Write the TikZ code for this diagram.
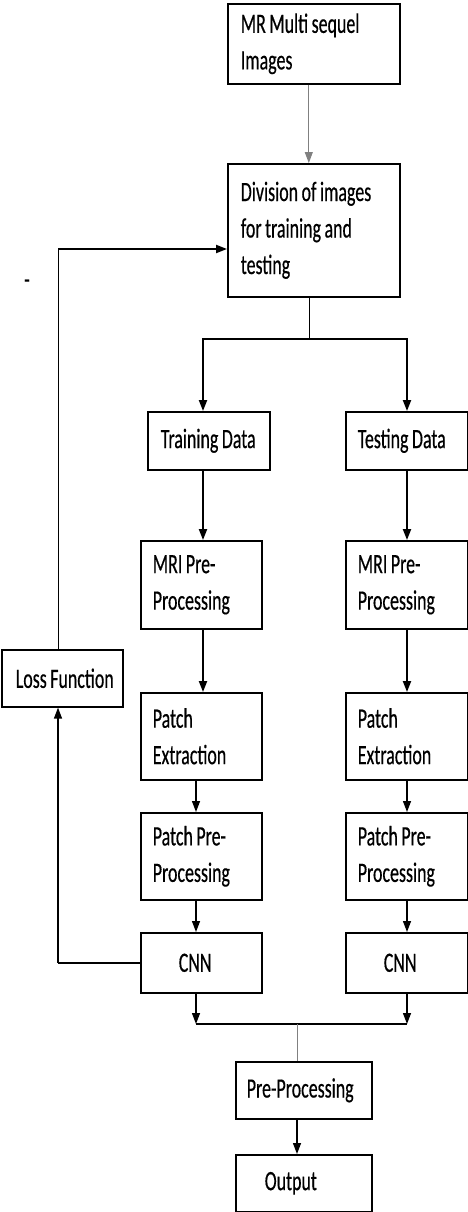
\documentclass[tikz,border=0pt]{standalone}
\usepackage{fontspec}
\newfontfamily\cf[FakeStretch=0.64,FakeBold=0.4]{Carlito}
\usetikzlibrary{arrows.meta}
\newcommand\boxfont{\cf\fontsize{28}{36.5}\selectfont}
\begin{document}
\begin{tikzpicture}[x=1pt,y=-1pt,
  bx/.style={draw, line width=1.6pt, inner sep=0pt, anchor=north west, align=left,
             font=\boxfont, execute at begin node={\spaceskip=3.5pt\xspaceskip=3.5pt\relax}},
  tip/.style={-{Triangle[length=11pt,width=8pt]}},
  thk/.style={line width=2pt},
  med/.style={line width=1.3pt},
  thn/.style={line width=0.9pt}]
\fill[white] (0,0) rectangle (468,1212);
\useasboundingbox (0,0) rectangle (468,1212);

% boxes
\node[bx, minimum width=172pt, minimum height=80pt, text width=146pt] (mr) at (227,3) {MR Multi sequel\\Images};
\node[bx, minimum width=172pt, minimum height=133pt, text width=146pt] (div) at (227,163) {Division of images\\for training and\\testing};
\node[bx, minimum width=122pt, minimum height=58pt, text width=96pt] (tr) at (147,411) {\mbox{Training Data}};
\node[bx, minimum width=122pt, minimum height=58pt, text width=98pt] (te) at (345,411) {\mbox{Testing Data}};
\node[bx, minimum width=121pt, minimum height=88pt, text width=97pt] (mriL) at (140,540) {MRI Pre-\\Processing};
\node[bx, minimum width=122pt, minimum height=88pt, text width=98pt] (mriR) at (345,540) {MRI Pre-\\Processing};
\node[bx, minimum width=121pt, minimum height=87pt, text width=97pt] (peL) at (140,692) {Patch\\Extraction};
\node[bx, minimum width=122pt, minimum height=87pt, text width=98pt] (peR) at (345,692) {Patch\\Extraction};
\node[bx, minimum width=121pt, minimum height=87pt, text width=97pt] (ppL) at (140,812) {Patch Pre-\\Processing};
\node[bx, minimum width=122pt, minimum height=87pt, text width=98pt] (ppR) at (345,812) {Patch Pre-\\Processing};
\node[bx, minimum width=121pt, minimum height=60pt, text width=45pt] (cnnL) at (140,932) {\mbox{CNN}};
\node[bx, minimum width=122pt, minimum height=60pt, text width=46pt] (cnnR) at (345,932) {\mbox{CNN}};
\node[bx, minimum width=121pt, minimum height=57pt, text width=93pt] (loss) at (1,649) {\mbox{Loss Function}};
\node[bx, minimum width=136pt, minimum height=57pt, text width=114pt] (pp) at (235,1061) {\mbox{Pre-Processing}};
\node[bx, minimum width=136pt, minimum height=57pt, text width=78pt] (out) at (235,1154) {\mbox{Output}};
\node[font=\boxfont, inner sep=0pt] (stray) at (27,284) {-};

% helper coordinates
\coordinate (cL) at (203,0);
\coordinate (cL2) at (196,0);
\coordinate (cR) at (407,0);
\coordinate (fb) at (58,0);
\coordinate (split) at (309,339);
\coordinate (merge) at (297,1024);
\coordinate (fbt) at (58,249);

% connectors
\draw[thn, gray, tip] ([xshift=-5pt]mr.south) -- ([xshift=-5pt]div.north);
\draw[thn] (div.south -| split) -- (split);
\draw[thk, tip] (split) -| (tr.north -| cL);
\draw[thk, tip] (split) -| (te.north -| cR);
\draw[thk, tip] (tr.south -| cL) -- (mriL.north -| cL);
\draw[thk, tip] (mriL.south -| cL) -- (peL.north -| cL);
\draw[med, tip] (peL.south -| cL2) -- (ppL.north -| cL2);
\draw[med, tip] (ppL.south -| cL2) -- (cnnL.north -| cL2);
\draw[med, tip] (cnnL.south -| cL2) -- (cL2 |- merge);
\draw[thk, tip] (te.south -| cR) -- (mriR.north -| cR);
\draw[thk, tip] (mriR.south -| cR) -- (peR.north -| cR);
\draw[med, tip] (peR.south -| cR) -- (ppR.north -| cR);
\draw[med, tip] (ppR.south -| cR) -- (cnnR.north -| cR);
\draw[med, tip] (cnnR.south -| cR) -- (cR |- merge);
\draw[med] (cL2 |- merge) -- (cR |- merge);
\draw[thn, gray] (merge) -- (pp.north -| merge);
\draw[med, tip] (pp.south -| merge) -- (out.north -| merge);
% feedback
\draw[thk] (cnnL.west) -- (cnnL.west -| fb);
\draw[med, tip] (cnnL.west -| fb) -- (loss.south -| fb);
\draw[thn] (loss.north -| fb) -- (fbt);
\draw[thk, tip] (fbt) -- (div.west |- fbt);
\end{tikzpicture}
\end{document}
